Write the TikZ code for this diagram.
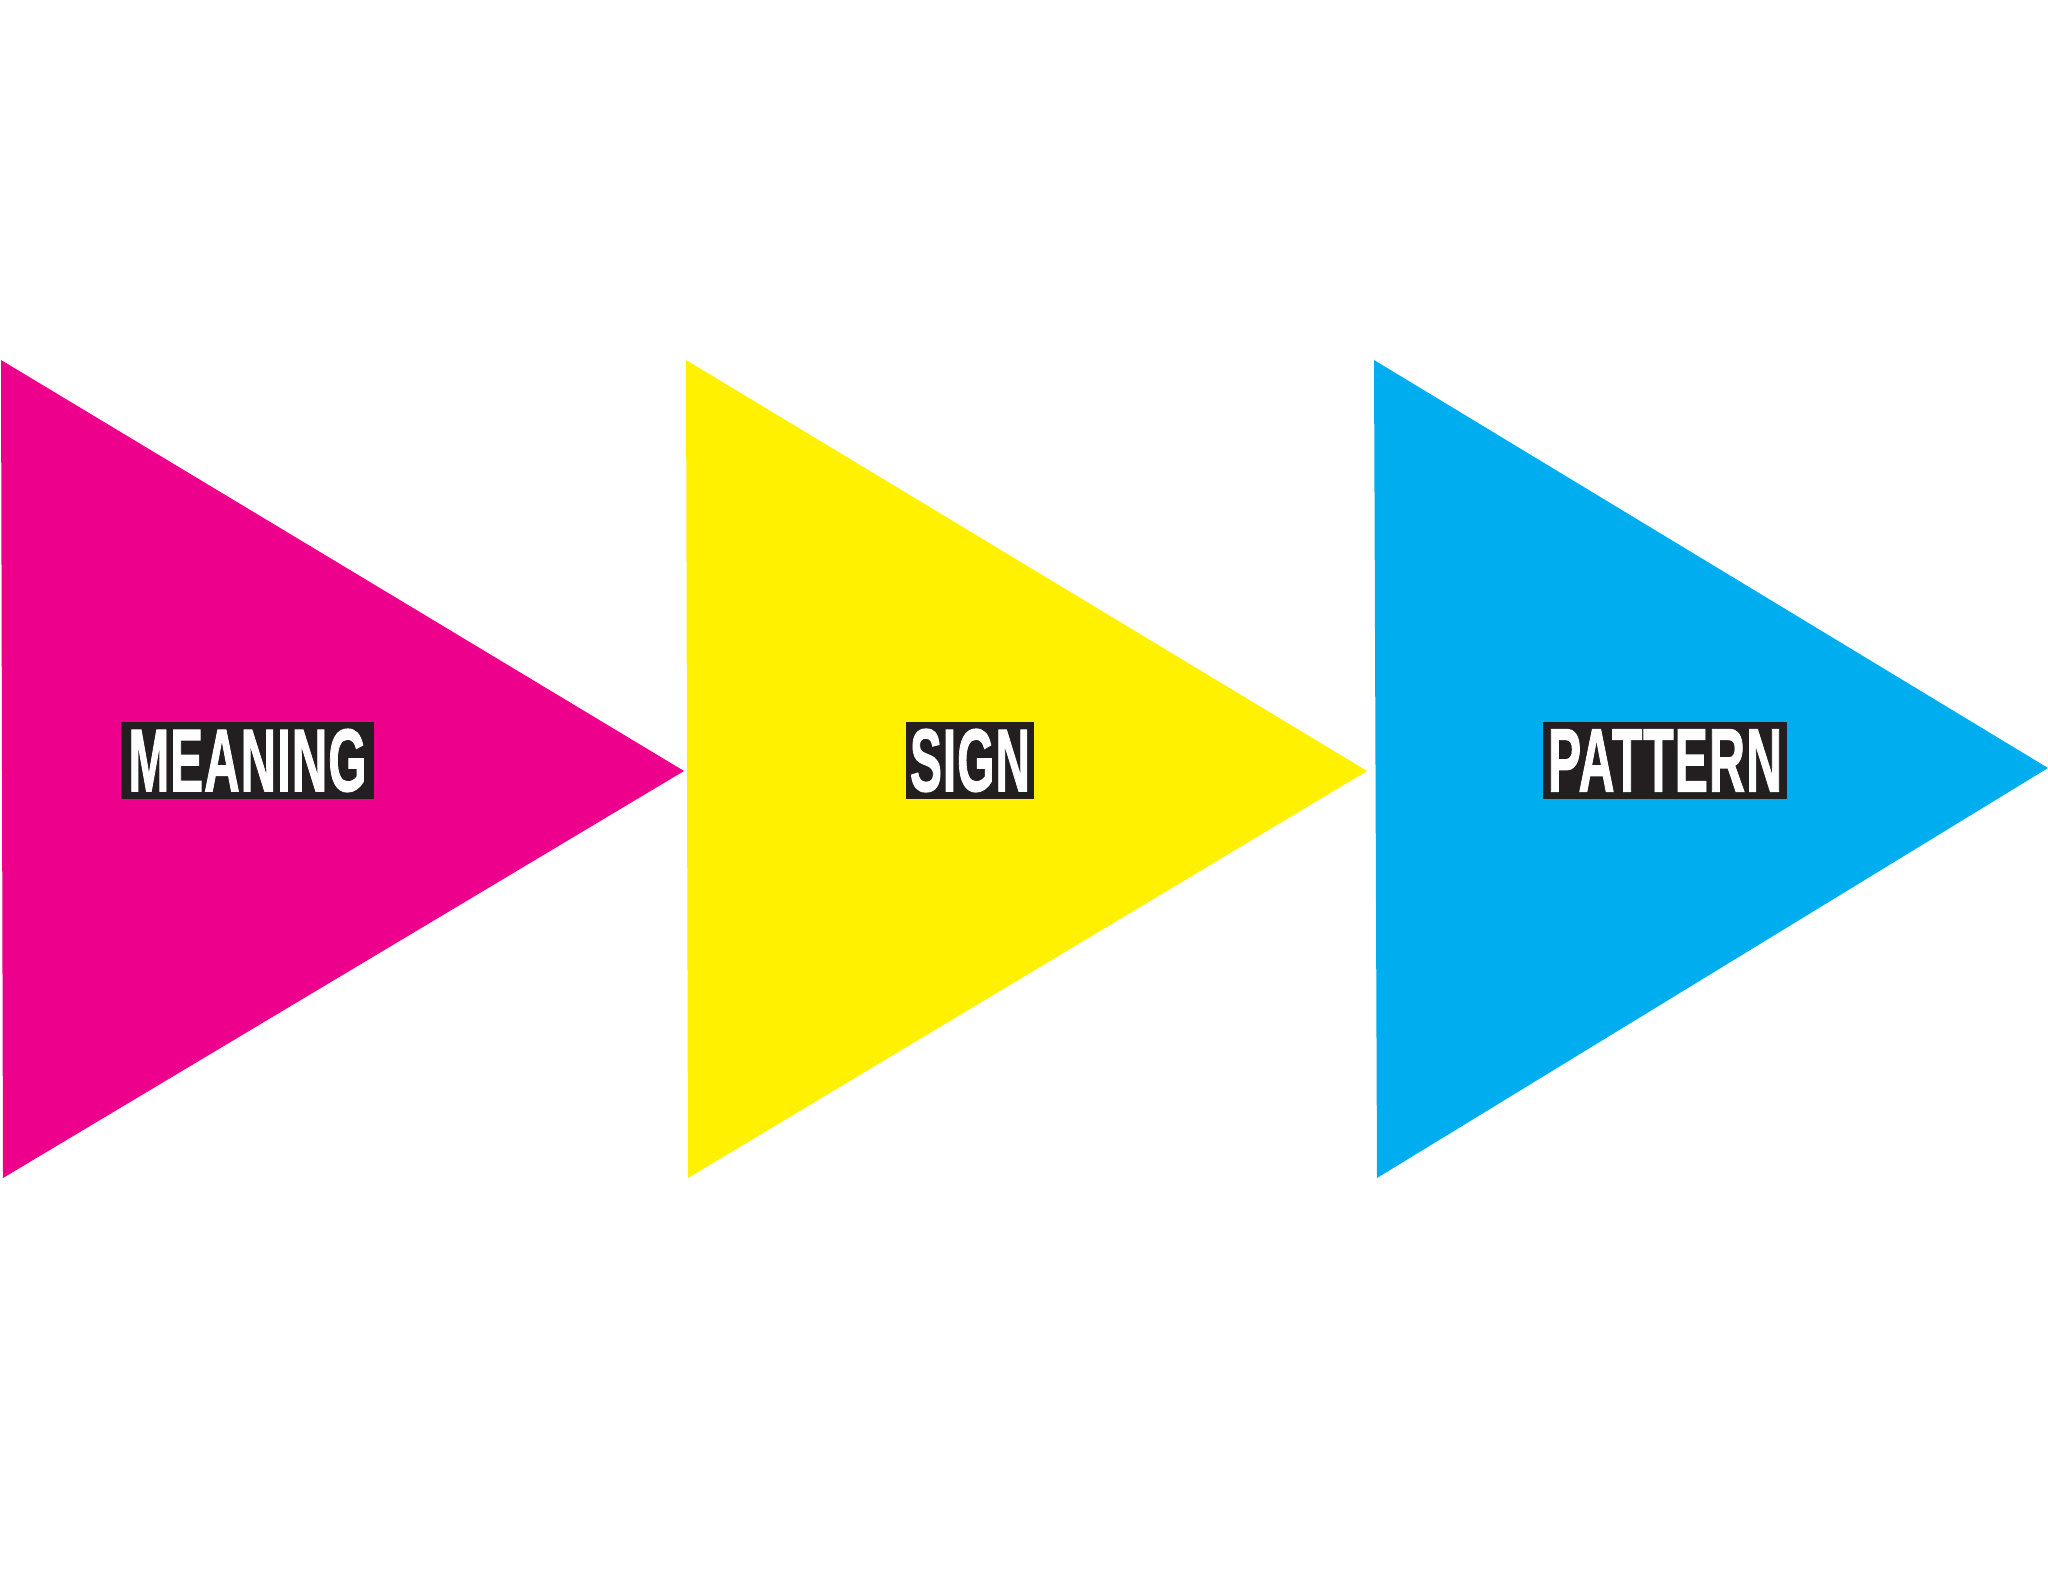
\documentclass[tikz,border=0pt]{standalone}
\usepackage{fontspec}
\setmainfont{Liberation Sans}
\newfontfamily\labelfont[FakeBold=1.5,LetterSpace=2]{Liberation Sans Bold}
\usepackage{graphicx}
\definecolor{mag}{HTML}{EC008C}
\definecolor{yel}{HTML}{FFF100}
\definecolor{cya}{HTML}{00AEEF}
\definecolor{boxdark}{HTML}{231F20}
\begin{document}
\begin{tikzpicture}[x=0.01cm,y=-0.01cm,
  labelbox/.style={fill=boxdark,text=white,inner sep=0pt,minimum height=0.77cm,font=\labelfont}]
\useasboundingbox[fill=white] (0,0) rectangle (2048,1582);
\fill[mag] (1,360) -- (684,771) -- (3,1178) -- cycle;
\fill[yel] (686,360) -- (1367,771) -- (688,1178) -- cycle;
\fill[cya] (1374,360) -- (2048,768) -- (1377,1178) -- cycle;
\node[labelbox,minimum width=2.53cm] (meaning) at (247.5,760.5) {\resizebox{2.38cm}{0.62cm}{MEANING}};
\node[labelbox,minimum width=1.28cm] (sign) at (970,760.5) {\resizebox{1.20cm}{0.62cm}{SIGN}};
\node[labelbox,minimum width=2.44cm] (pattern) at (1665,760.5) {\resizebox{2.34cm}{0.62cm}{PATTERN}};
\end{tikzpicture}
\end{document}
